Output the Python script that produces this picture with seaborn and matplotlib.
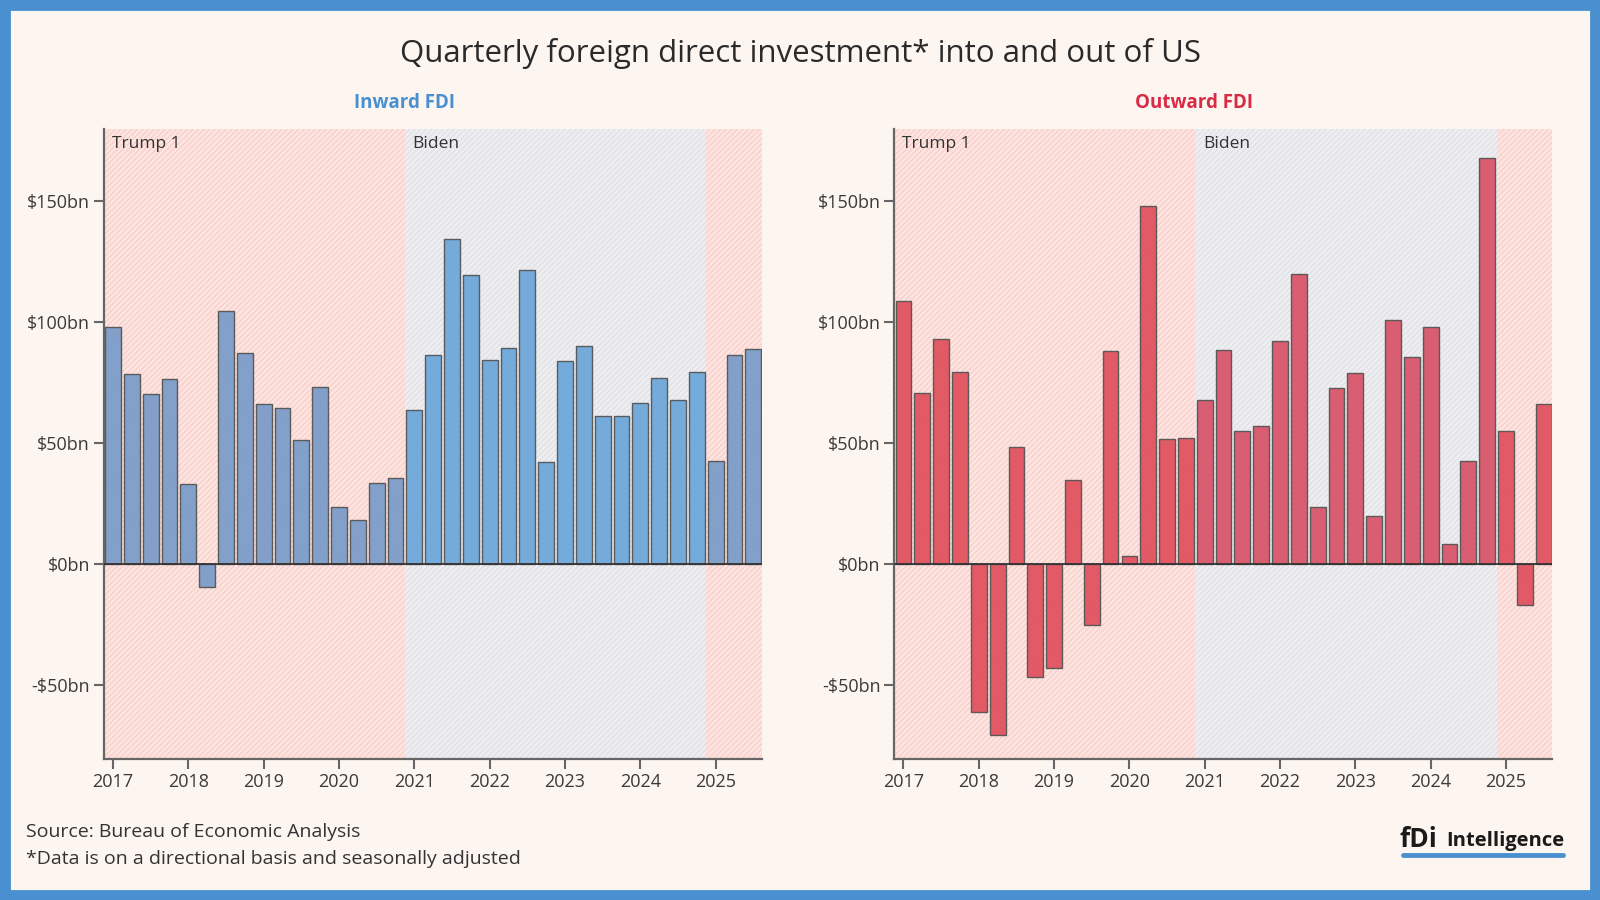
import numpy as np
import pandas as pd
import matplotlib.pyplot as plt
import matplotlib.patches as patches
import seaborn as sns

# quarterly values, $bn, 2017Q1 .. 2025Q3
years = list(range(2017, 2026))
quarter_pos = [y + q / 4 for y in years for q in range(4)][:35]

inward = [98.2, 78.4, 70.4, 76.7, 32.9, -9.7, 104.5, 87.2,
          66.2, 64.5, 51.4, 73.3, 23.6, 18.1, 33.7, 35.4,
          63.6, 86.4, 134.4, 119.7, 84.3, 89.3, 121.4, 42.1,
          83.9, 90.2, 61.1, 61.1, 66.6, 77.1, 67.8, 79.6,
          42.6, 86.4, 88.9]

outward = [108.7, 70.8, 93.1, 79.6, -61.1, -70.8, 48.5, -46.8,
           -43.0, 34.6, -25.3, 88.1, 3.4, 147.9, 51.8, 52.3,
           67.8, 88.5, 55.2, 56.9, 92.3, 120.1, 23.6, 72.9,
           78.8, 19.8, 100.7, 85.5, 97.8, 8.4, 42.6, 167.7,
           55.2, -16.9, 66.2]

# presidential periods (boundaries between quarters)
period_names = ["Trump 1", "Biden", "Trump 2"]
period_edges = [2016.88, 2020.875, 2024.875, 2025.61]

bg = "#fdf5f0"
border_blue = "#4a90d0"
text_col = "#333333"

sns.set_theme(style="white")
plt.rcParams["font.family"] = ["Open Sans", "DejaVu Sans"]
plt.rcParams["hatch.linewidth"] = 0.7


def period_of(x):
    if x < period_edges[1]:
        return "Trump 1"
    if x < period_edges[2]:
        return "Biden"
    return "Trump 2"


df = pd.DataFrame({"pos": quarter_pos, "inward": inward, "outward": outward})
df["period"] = df["pos"].apply(period_of)

fig = plt.figure(figsize=(16, 9), dpi=100, facecolor=bg)

panels = [
    ("inward", "Inward FDI", "#4a90d0", [0.065, 0.157, 0.411, 0.70],
     {"Trump 1": "#7c9dc9", "Biden": "#6ea8da", "Trump 2": "#7c9dc9"}, 0.253),
    ("outward", "Outward FDI", "#d92b45", [0.559, 0.157, 0.411, 0.70],
     {"Trump 1": "#e0535f", "Biden": "#d9566a", "Trump 2": "#e0535f"}, 0.746),
]

shade = {"Trump 1": ("#fde4e0", "#f7c9c3"),
         "Biden": ("#eeedf0", "#dcdde6"),
         "Trump 2": ("#fde4e0", "#f7c9c3")}

for col, title, tcol, rect, pal, tx in panels:
    ax = fig.add_axes(rect)
    ax.set_facecolor(bg)

    for i, name in enumerate(period_names):
        fc, hc = shade[name]
        ax.axvspan(period_edges[i], period_edges[i + 1], facecolor=fc,
                   edgecolor=hc, hatch="//////", linewidth=0, zorder=0)
        if name != "Trump 2":
            ax.text(period_edges[i] + 0.1, 0.976, name, transform=ax.get_xaxis_transform(),
                    ha="left", va="center", fontsize=12.5, color=text_col, zorder=3)

    sns.barplot(data=df, x="pos", y=col, hue="period", palette=pal,
                native_scale=True, dodge=False, width=0.84, legend=False,
                saturation=1, edgecolor="#555555", linewidth=1, alpha=0.95,
                ax=ax, zorder=2)

    ax.axhline(0, color="#333333", lw=1.3, zorder=3)
    ax.set_xlim(period_edges[0], period_edges[-1])
    ax.set_ylim(-80.5, 180)
    ax.set_yticks([-50, 0, 50, 100, 150])
    ax.set_yticklabels(["-$50bn", "$0bn", "$50bn", "$100bn", "$150bn"])
    ax.set_xticks(years)
    ax.set_xticklabels([str(y) for y in years])
    ax.set_xlabel("")
    ax.set_ylabel("")
    for s in ["top", "right"]:
        ax.spines[s].set_visible(False)
    for s in ["left", "bottom"]:
        ax.spines[s].set_color("#666666")
        ax.spines[s].set_linewidth(1.6)
    ax.tick_params(axis="both", which="major", length=7, width=1.5, color="#666666",
                   labelsize=13, labelcolor="#3a3a3a", left=True, bottom=True, pad=3)

    fig.text(tx, 0.886, title, ha="center", va="center", fontsize=13.5,
             fontweight="bold", color=tcol)

fig.text(0.5, 0.941, "Quarterly foreign direct investment* into and out of US",
         ha="center", va="center", fontsize=22.5, color="#2a2a2a")

fig.text(0.016, 0.076, "Source: Bureau of Economic Analysis", ha="left", va="center",
         fontsize=14, color=text_col)
fig.text(0.016, 0.046, "*Data is on a directional basis and seasonally adjusted",
         ha="left", va="center", fontsize=14, color=text_col)

# logo
fig.text(0.875, 0.067, "fDi", ha="left", va="center", fontsize=19, fontweight="bold",
         color="#1a1a1a")
fig.text(0.904, 0.066, "Intelligence", ha="left", va="center", fontsize=14.5,
         fontweight="bold", color="#1a1a1a")
fig.add_artist(plt.Line2D([0.877, 0.977], [0.05, 0.05], transform=fig.transFigure,
                          color=border_blue, lw=3.5))

# blue frame round the figure
fig.add_artist(patches.Rectangle((0, 0), 1, 1, transform=fig.transFigure, fill=False,
                                 edgecolor=border_blue, linewidth=15, zorder=10))

fig.savefig("out.png", dpi=100, facecolor=bg)
